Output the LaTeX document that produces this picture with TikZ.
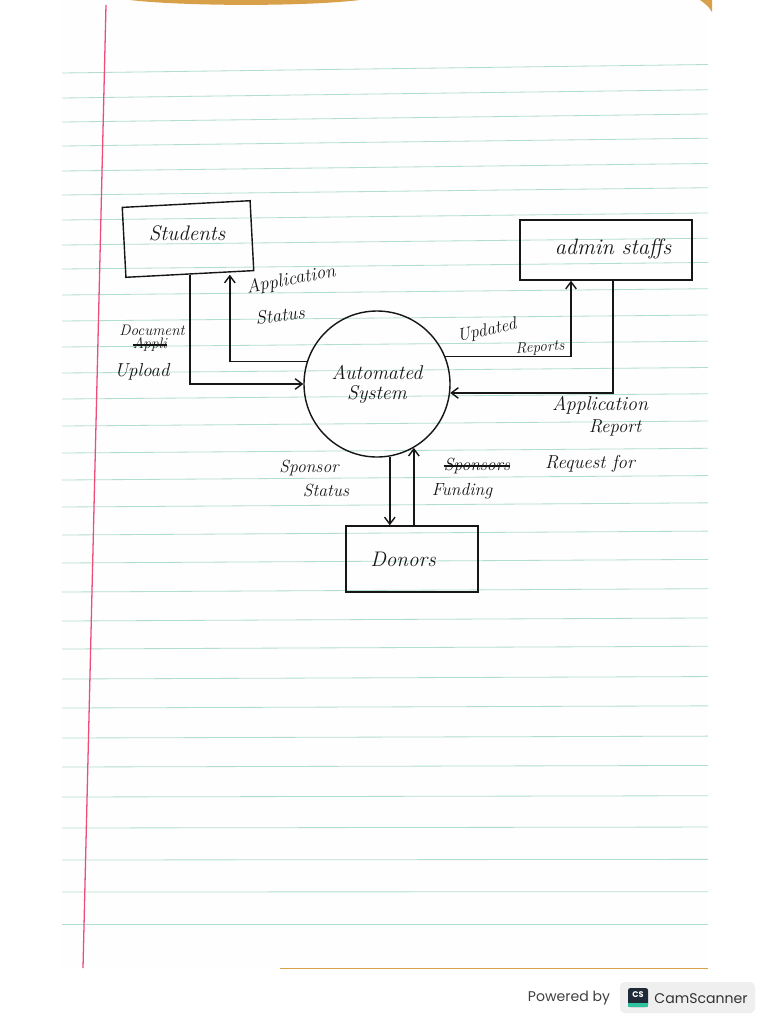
\documentclass[tikz,border=0pt]{standalone}
\usepackage{fontspec}
\usetikzlibrary{arrows.meta,calc}
\newfontfamily\poppins{Poppins}
\definecolor{ink}{HTML}{161616}
\definecolor{rule}{RGB}{178,222,208}
\definecolor{margin}{HTML}{EE4D7C}
\definecolor{tan}{HTML}{D9A04A}
\definecolor{badge}{HTML}{EFEFEF}
\definecolor{navy}{HTML}{1E2A38}
\definecolor{teal}{HTML}{2FC1A0}
\newcommand{\fs}[1]{\fontsize{#1}{#1}\selectfont\itshape}
\tikzset{
  box/.style={draw=ink, line width=1.2pt, rectangle, inner sep=0pt},
  proc/.style={draw=ink, line width=1.2pt, circle, inner sep=0pt, minimum size=4.38cm, align=center, text=ink},
  flow/.style={draw=ink, line width=1.2pt, -{Straight Barb[length=6pt,width=9pt]}},
  lbl/.style={text=ink, inner sep=0pt, align=center},
  strike/.style={draw=ink, line width=0.9pt},
  ruled/.style={draw=rule, line width=0.7pt}
}
\begin{document}
\begin{tikzpicture}[x=0.03cm, y=-0.03cm]
\useasboundingbox (0,0) rectangle (768,1024);
\fill[white] (0,0) rectangle (768,1024);
% paper
\fill[white!99!gray] (62,0) rectangle (708,968);
\fill[tan] (130,0) .. controls (180,6) and (300,7) .. (360,0) -- cycle;
\fill[tan] (700,0) -- (712,0) -- (712,12) .. controls (708,6) .. (700,0);
\draw[tan, line width=0.8pt] (280,968) -- (708,968);
% ruled lines
\foreach \L in {73,98,122,146,171,195,220,245,269,295,321,347,373,399,426,453,480,507,535,563,592,621,649,679,708,738,767,797,828,860,892,924}{
  \pgfmathsetmacro{\R}{\L-0.01*(924-\L)}
  \draw[ruled] (62,\L) -- (708,\R);
}
\draw[margin, line width=1.1pt] (106,5) -- (83,968);
% nodes
\node[box, minimum width=3.84cm, minimum height=2.1cm, rotate=3] (students) at (188,239) {};
\node[lbl] at (187,233) {\fs{18}Students};
\node[box, minimum width=5.16cm, minimum height=1.8cm] (admin) at (606,250) {};
\node[lbl] at (613,249) {\fs{19}admin staffs};
\node[proc] (sys) at (377,384) {\fs{17}Automated\\[4pt]\fs{17}System};
\node[box, minimum width=3.96cm, minimum height=1.98cm] (donors) at (412,559) {};
\node[lbl] at (403,559) {\fs{18}Donors};
% connectors
\draw[flow] (students.south) -- (students.south |- sys.west) -- (sys.west);
\draw[flow] (sys.162) -| ($(students.south)+(40,0)$);
\draw[flow] (sys.22) -| ($(admin.south)+(-35,0)$);
\draw[flow] ($(admin.south)+(7,0)$) |- (sys.-7);
\draw[flow] (sys.-80) -- (sys.-80 |- donors.north);
\draw[flow] (donors.north -| sys.-60) -- (sys.-60);
% labels
\node[lbl] at (152,330) {\fs{13}Document};
\node[lbl] (appli) at (150,345) {\fs{13}Appli};
\draw[strike] (appli.west) -- (appli.east);
\node[lbl] at (142,372) {\fs{16}Upload};
\node[lbl, rotate=11] at (291,280) {\fs{16}Application};
\node[lbl, rotate=7] at (280,315) {\fs{16}Status};
\node[lbl, rotate=12] at (487,331) {\fs{15}Updated};
\node[lbl, rotate=4] at (540,348) {\fs{13}Reports};
\node[lbl] at (600,405) {\fs{17}Application};
\node[lbl] at (615,428) {\fs{16}Report};
\node[lbl] at (309,468) {\fs{15}Sponsor};
\node[lbl] at (326,490) {\fs{15}Status};
\node[lbl] (spons) at (477,466) {\fs{15}Sponsors};
\draw[strike] (spons.west) -- (spons.east);
\node[lbl] at (590,464) {\fs{16}Request for};
\node[lbl] at (462,491) {\fs{15}Funding};
% footer
\node[lbl, text=black!75] at (569,998) {\poppins\fontsize{12}{12}\selectfont Powered by};
\fill[badge, rounded corners=4pt] (620,982) rectangle (755,1013);
\fill[navy, rounded corners=2pt] (628,988) rectangle (648,1007);
\fill[teal] (628,1003) rectangle (648,1007);
\node[lbl, text=white] at (638,995) {\poppins\bfseries\fontsize{7}{7}\selectfont CS};
\node[lbl, text=black!80] at (701,999) {\poppins\fontsize{12}{12}\selectfont CamScanner};
\end{tikzpicture}
\end{document}
